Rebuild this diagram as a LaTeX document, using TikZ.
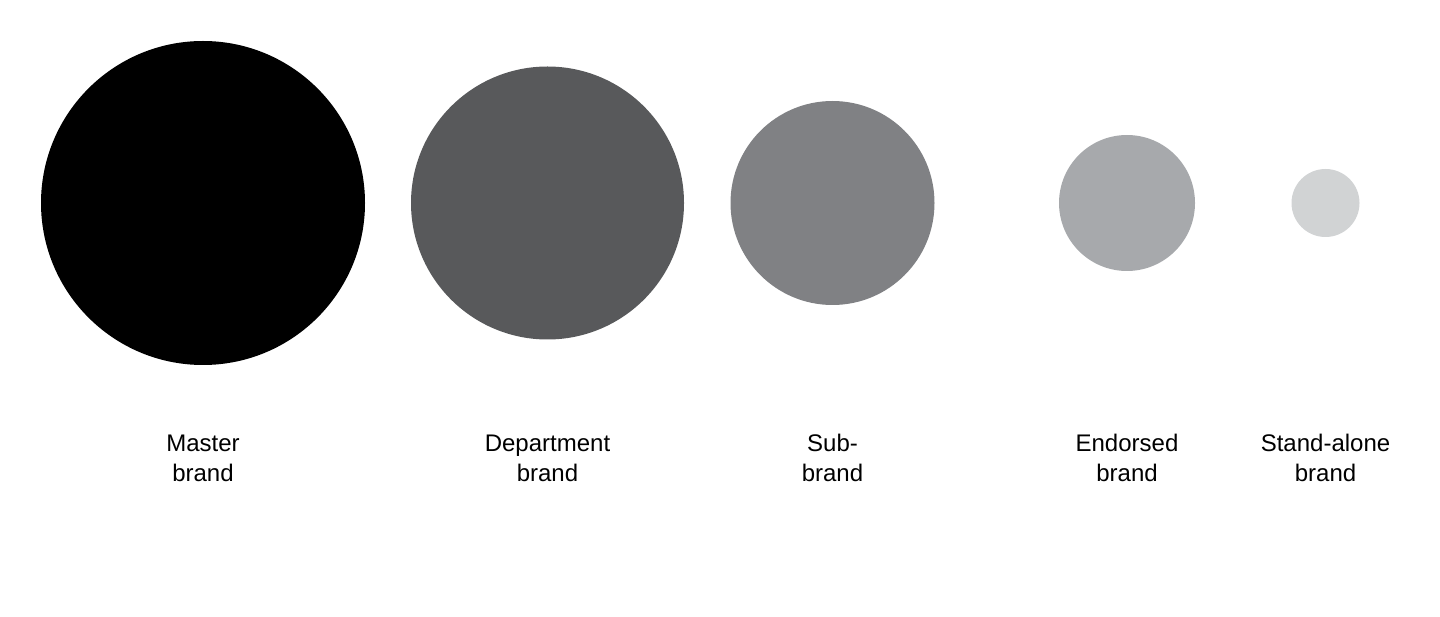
\documentclass[tikz,border=0pt]{standalone}
\usepackage{fontspec}
\setmainfont{Liberation Sans}
\definecolor{g1}{HTML}{000000}
\definecolor{g2}{HTML}{58595B}
\definecolor{g3}{HTML}{808184}
\definecolor{g4}{HTML}{A7A9AC}
\definecolor{g5}{HTML}{D1D3D4}
\begin{document}
\begin{tikzpicture}[x=1pt,y=-1pt,
  brandlabel/.style={align=center,font=\fontsize{24}{30}\selectfont,inner sep=0pt,anchor=base}]
\useasboundingbox (0,0) rectangle (1440,617);
\fill[g1] (203,203) circle[radius=162];
\fill[g2] (547.5,203) circle[radius=136.5];
\fill[g3] (832.5,203) circle[radius=102];
\fill[g4] (1127,203) circle[radius=68];
\fill[g5] (1325.5,203) circle[radius=34];
\node[brandlabel] (l1) at (203,481) {Master\\brand};
\node[brandlabel] (l2) at (547.5,481) {Department\\brand};
\node[brandlabel] (l3) at (832.5,481) {Sub-\\brand};
\node[brandlabel] (l4) at (1127,481) {Endorsed\\brand};
\node[brandlabel] (l5) at (1325.5,481) {Stand-alone\\brand};
\end{tikzpicture}
\end{document}
